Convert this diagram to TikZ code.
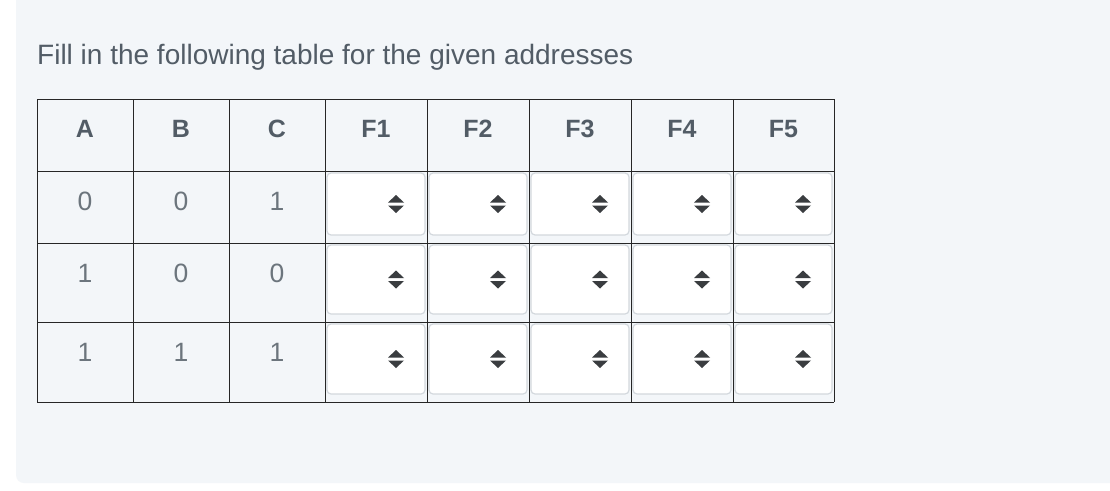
\documentclass[tikz,border=0pt]{standalone}
\usepackage{fontspec}
\setmainfont{Liberation Sans}
\definecolor{panel}{HTML}{F3F6F9}
\definecolor{txt}{HTML}{525C66}
\definecolor{boxline}{HTML}{D3D8DD}
\definecolor{arr}{HTML}{3A3D40}
\begin{document}
\begin{tikzpicture}[x=1pt,y=-1pt,
  hdr/.style={font=\fontsize{25}{28}\selectfont\bfseries,text=txt},
  val/.style={font=\fontsize{26.5}{30}\selectfont,text=txt!85},
  ddbox/.style={draw=boxline,line width=1.2pt,fill=white,rounded corners=4pt},
  grid/.style={draw=black!85,line width=1pt}]
\useasboundingbox (0,0) rectangle (1110,490);
\fill[white] (0,0) rectangle (1110,490);
\fill[panel,rounded corners=8pt] (16,-10) rectangle (1120,483);
\node[anchor=west,inner sep=0pt,font=\fontsize{28}{32}\selectfont,text=txt] (title) at (37,57) {Fill in the following table for the given addresses};
% dropdown boxes
\foreach \xa/\xb in {325/427,427/529,529/631,631/733,733/834}{
  \foreach \ya/\yb in {171/243,243/322,322/402}{
    \draw[ddbox] (\xa+2,\ya+2) rectangle (\xb-2,\yb-8);
    \coordinate (ar) at (\xb-31,{(\ya+\yb)/2-3});
    \fill[arr] ([xshift=-8pt,yshift=1.5pt]ar) -- ([yshift=9pt]ar) -- ([xshift=8pt,yshift=1.5pt]ar) -- cycle;
    \fill[arr] ([xshift=-8pt,yshift=-1.5pt]ar) -- ([yshift=-9pt]ar) -- ([xshift=8pt,yshift=-1.5pt]ar) -- cycle;
  }
}
% grid
\foreach \x in {37,133,229,325,427,529,631,733,834}{ \draw[grid] (\x,99) -- (\x,402); }
\foreach \y in {99,171,243,322,402}{ \draw[grid] (37,\y) -- (834,\y); }
% headers
\foreach \t/\cx in {A/85,B/181,C/277,F1/376,F2/478,F3/580,F4/682,F5/783.5}{
  \node[hdr] (h\t) at (\cx,129) {\t};
}
% values
\foreach \a/\b/\cc/\cy in {0/0/1/201,1/0/0/273,1/1/1/352}{
  \node[val] at (85,\cy) {\a};
  \node[val] at (181,\cy) {\b};
  \node[val] at (277,\cy) {\cc};
}
\end{tikzpicture}
\end{document}
